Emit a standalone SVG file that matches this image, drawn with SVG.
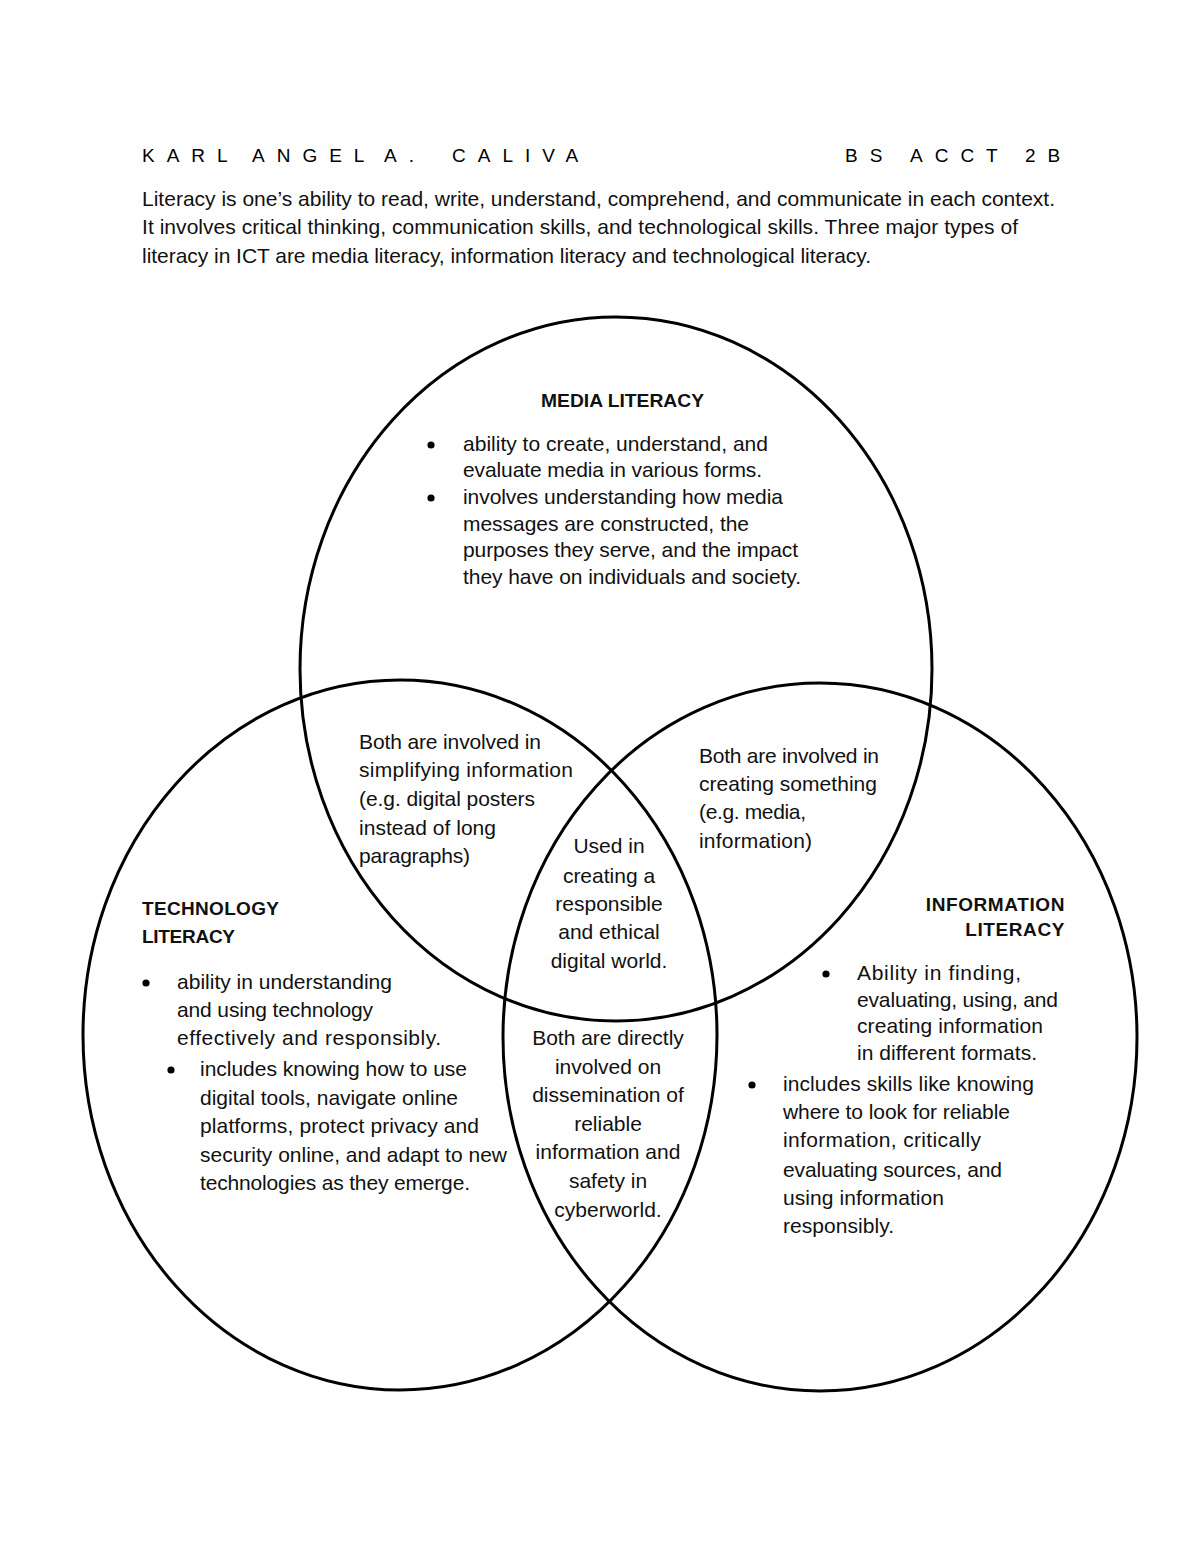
<svg xmlns="http://www.w3.org/2000/svg" width="1200" height="1553" viewBox="0 0 1200 1553">
<style>
text{font-family:"Liberation Sans",Arial,sans-serif;fill:#111;}
.hd{font-size:19px;letter-spacing:12px;fill:#000;}
.b{font-size:21px;}
.h{font-size:19px;font-weight:bold;}
.c{font-size:21px;text-anchor:middle;}
.ring{fill:none;stroke:#000;stroke-width:3;}
.dot{fill:#000;}
</style>
<rect width="1200" height="1553" fill="#fff"/>
<g id="header">
<text class="hd" y="162"><tspan x="142">KARL</tspan><tspan x="252">ANGEL</tspan><tspan x="384">A.</tspan><tspan x="452">CALIVA</tspan><tspan x="845">BS</tspan><tspan x="910">ACCT</tspan><tspan x="1025">2B</tspan></text>
</g>
<g id="intro">
<text class="b" x="142" y="206" textLength="913" lengthAdjust="spacing">Literacy is one’s ability to read, write, understand, comprehend, and communicate in each context.</text>
<text class="b" x="142" y="234" textLength="876" lengthAdjust="spacing">It involves critical thinking, communication skills, and technological skills. Three major types of</text>
<text class="b" x="142" y="263" textLength="729" lengthAdjust="spacing">literacy in ICT are media literacy, information literacy and technological literacy.</text>
</g>
<g id="media-literacy">
<ellipse class="ring" cx="616" cy="669" rx="316" ry="352"/>
<text class="h" x="541" y="407" textLength="163" lengthAdjust="spacingAndGlyphs">MEDIA LITERACY</text>
<circle class="dot" cx="431" cy="445" r="3.6"/>
<circle class="dot" cx="431" cy="498" r="3.6"/>
<text class="b" x="463" y="451" textLength="305" lengthAdjust="spacing">ability to create, understand, and</text>
<text class="b" x="463" y="477" textLength="299" lengthAdjust="spacing">evaluate media in various forms.</text>
<text class="b" x="463" y="504" textLength="320" lengthAdjust="spacing">involves understanding how media</text>
<text class="b" x="463" y="531" textLength="286" lengthAdjust="spacing">messages are constructed, the</text>
<text class="b" x="463" y="557" textLength="335" lengthAdjust="spacing">purposes they serve, and the impact</text>
<text class="b" x="463" y="584" textLength="338" lengthAdjust="spacing">they have on individuals and society.</text>
</g>
<g id="technology-literacy">
<ellipse class="ring" cx="400" cy="1035" rx="317" ry="355"/>
<text class="h" x="142" y="915" textLength="137" lengthAdjust="spacing">TECHNOLOGY</text>
<text class="h" x="142" y="943" textLength="93" lengthAdjust="spacing">LITERACY</text>
<circle class="dot" cx="146" cy="983" r="3.6"/>
<circle class="dot" cx="171" cy="1070" r="3.6"/>
<text class="b" x="177" y="989" textLength="215" lengthAdjust="spacing">ability in understanding</text>
<text class="b" x="177" y="1017" textLength="196" lengthAdjust="spacing">and using technology</text>
<text class="b" x="177" y="1045" textLength="264" lengthAdjust="spacing">effectively and responsibly.</text>
<text class="b" x="200" y="1076" textLength="267" lengthAdjust="spacing">includes knowing how to use</text>
<text class="b" x="200" y="1105" textLength="258" lengthAdjust="spacing">digital tools, navigate online</text>
<text class="b" x="200" y="1133" textLength="279" lengthAdjust="spacing">platforms, protect privacy and</text>
<text class="b" x="200" y="1162" textLength="307" lengthAdjust="spacing">security online, and adapt to new</text>
<text class="b" x="200" y="1190" textLength="270" lengthAdjust="spacing">technologies as they emerge.</text>
</g>
<g id="information-literacy">
<ellipse class="ring" cx="820" cy="1037" rx="317" ry="354"/>
<text class="h" x="1065" y="911" text-anchor="end" letter-spacing="0.6">INFORMATION</text>
<text class="h" x="1065" y="936" text-anchor="end" letter-spacing="0.6">LITERACY</text>
<circle class="dot" cx="826" cy="974" r="3.6"/>
<circle class="dot" cx="752" cy="1085" r="3.6"/>
<text class="b" x="857" y="980" textLength="164" lengthAdjust="spacing">Ability in finding,</text>
<text class="b" x="857" y="1007" textLength="201" lengthAdjust="spacing">evaluating, using, and</text>
<text class="b" x="857" y="1033" textLength="186" lengthAdjust="spacing">creating information</text>
<text class="b" x="857" y="1060" textLength="180" lengthAdjust="spacing">in different formats.</text>
<text class="b" x="783" y="1091" textLength="251" lengthAdjust="spacing">includes skills like knowing</text>
<text class="b" x="783" y="1119" textLength="227" lengthAdjust="spacing">where to look for reliable</text>
<text class="b" x="783" y="1147" textLength="198" lengthAdjust="spacing">information, critically</text>
<text class="b" x="783" y="1177" textLength="219" lengthAdjust="spacing">evaluating sources, and</text>
<text class="b" x="783" y="1205" textLength="161" lengthAdjust="spacing">using information</text>
<text class="b" x="783" y="1233" textLength="111" lengthAdjust="spacing">responsibly.</text>
</g>
<g id="media-technology">
<text class="b" x="359" y="749" textLength="182" lengthAdjust="spacing">Both are involved in</text>
<text class="b" x="359" y="777" textLength="214" lengthAdjust="spacing">simplifying information</text>
<text class="b" x="359" y="806" textLength="176" lengthAdjust="spacing">(e.g. digital posters</text>
<text class="b" x="359" y="835" textLength="137" lengthAdjust="spacing">instead of long</text>
<text class="b" x="359" y="863" textLength="111" lengthAdjust="spacing">paragraphs)</text>
</g>
<g id="media-information">
<text class="b" x="699" y="763" textLength="180" lengthAdjust="spacing">Both are involved in</text>
<text class="b" x="699" y="791" textLength="178" lengthAdjust="spacing">creating something</text>
<text class="b" x="699" y="819" textLength="107" lengthAdjust="spacing">(e.g. media,</text>
<text class="b" x="699" y="848" textLength="113" lengthAdjust="spacing">information)</text>
</g>
<g id="all-three">
<text class="c" x="609" y="853">Used in</text>
<text class="c" x="609" y="883">creating a</text>
<text class="c" x="609" y="911">responsible</text>
<text class="c" x="609" y="939">and ethical</text>
<text class="c" x="609" y="968">digital world.</text>
</g>
<g id="technology-information">
<text class="c" x="608" y="1045">Both are directly</text>
<text class="c" x="608" y="1074">involved on</text>
<text class="c" x="608" y="1102">dissemination of</text>
<text class="c" x="608" y="1131">reliable</text>
<text class="c" x="608" y="1159">information and</text>
<text class="c" x="608" y="1188">safety in</text>
<text class="c" x="608" y="1217">cyberworld.</text>
</g>
</svg>
